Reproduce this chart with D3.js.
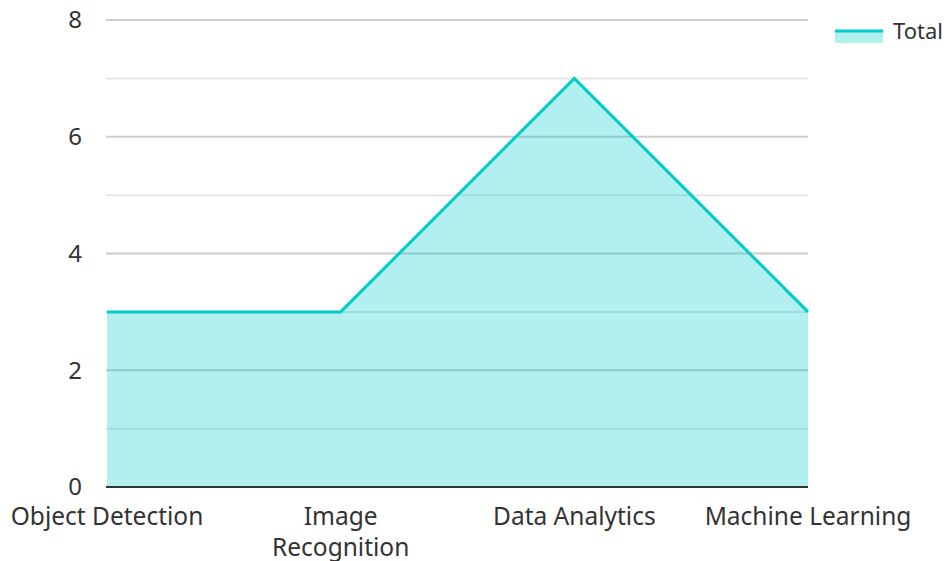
<!DOCTYPE html>
<html>
<head>
<meta charset="utf-8">
<script src="https://cdn.jsdelivr.net/npm/d3@7"></script>
<style>
  body { margin: 0; background: #fff; }
  text { font-family: "Noto Sans", "Open Sans", sans-serif; fill: #333; }
</style>
</head>
<body>
<script>
var categories = ["Object Detection", "Image Recognition", "Data Analytics", "Machine Learning"];
var labelLines = [["Object Detection"], ["Image", "Recognition"], ["Data Analytics"], ["Machine Learning"]];
var totals = [3, 3, 7, 3];
var yTicks = [0, 2, 4, 6, 8];
var yMinor = [1, 3, 5, 7];
var seriesName = "Total";

var margin = {top: 20, right: 142, bottom: 74, left: 107},
    width = 950 - margin.left - margin.right,
    height = 561 - margin.top - margin.bottom;

var lineColor = "#00cccc";

var svg = d3.select("body").append("svg")
    .attr("width", 950)
    .attr("height", 561);

var g = svg.append("g")
    .attr("transform", "translate(" + margin.left + "," + margin.top + ")");

var x = d3.scalePoint()
    .domain(categories)
    .range([0, width])
    .padding(0);

var y = d3.scaleLinear()
    .domain([0, 8])
    .range([height, 0]);

// gridlines
g.append("g").selectAll("line.minor")
    .data(yMinor)
  .enter().append("line")
    .attr("x1", -1).attr("x2", width)
    .attr("y1", function(d) { return y(d); })
    .attr("y2", function(d) { return y(d); })
    .attr("stroke", "#e6e6e6")
    .attr("stroke-width", 2);

g.append("g").selectAll("line.major")
    .data(yTicks.filter(function(d) { return d > 0; }))
  .enter().append("line")
    .attr("x1", -1).attr("x2", width)
    .attr("y1", function(d) { return y(d); })
    .attr("y2", function(d) { return y(d); })
    .attr("stroke", "#cccccc")
    .attr("stroke-width", 2);

// y tick labels
g.append("g").selectAll("text")
    .data(yTicks)
  .enter().append("text")
    .attr("x", -25)
    .attr("y", function(d) { return y(d); })
    .attr("dy", "0.35em")
    .attr("text-anchor", "end")
    .style("font-size", "24px")
    .text(function(d) { return d; });

// area + line
var area = d3.area()
    .x(function(d, i) { return x(categories[i]); })
    .y0(height)
    .y1(function(d) { return y(d); });

var line = d3.line()
    .x(function(d, i) { return x(categories[i]); })
    .y(function(d) { return y(d); });

g.append("path")
    .datum(totals)
    .attr("d", area)
    .attr("fill", lineColor)
    .attr("fill-opacity", 0.3);

g.append("path")
    .datum(totals)
    .attr("d", line)
    .attr("fill", "none")
    .attr("stroke", lineColor)
    .attr("stroke-width", 3);

// x axis line
g.append("line")
    .attr("x1", -1).attr("x2", width)
    .attr("y1", height).attr("y2", height)
    .attr("stroke", "#333")
    .attr("stroke-width", 2);

// x labels
var xl = g.append("g").selectAll("text")
    .data(categories)
  .enter().append("text")
    .attr("x", function(d) { return x(d); })
    .attr("y", height + 38)
    .attr("text-anchor", "middle")
    .style("font-size", "24.5px");

xl.each(function(d, i) {
  var t = d3.select(this);
  labelLines[i].forEach(function(s, j) {
    t.append("tspan")
      .attr("x", x(d))
      .attr("dy", j === 0 ? 0 : 31)
      .text(s);
  });
});

// legend
var lg = svg.append("g").attr("transform", "translate(835,31)");
lg.append("rect")
    .attr("x", 0).attr("y", 0)
    .attr("width", 48).attr("height", 12)
    .attr("fill", lineColor)
    .attr("fill-opacity", 0.3);
lg.append("line")
    .attr("x1", 0).attr("x2", 48)
    .attr("y1", 0).attr("y2", 0)
    .attr("stroke", lineColor)
    .attr("stroke-width", 3);
lg.append("text")
    .attr("x", 58)
    .attr("y", 0)
    .attr("dy", "0.35em")
    .style("font-size", "22px")
    .text(seriesName);
</script>
</body>
</html>
